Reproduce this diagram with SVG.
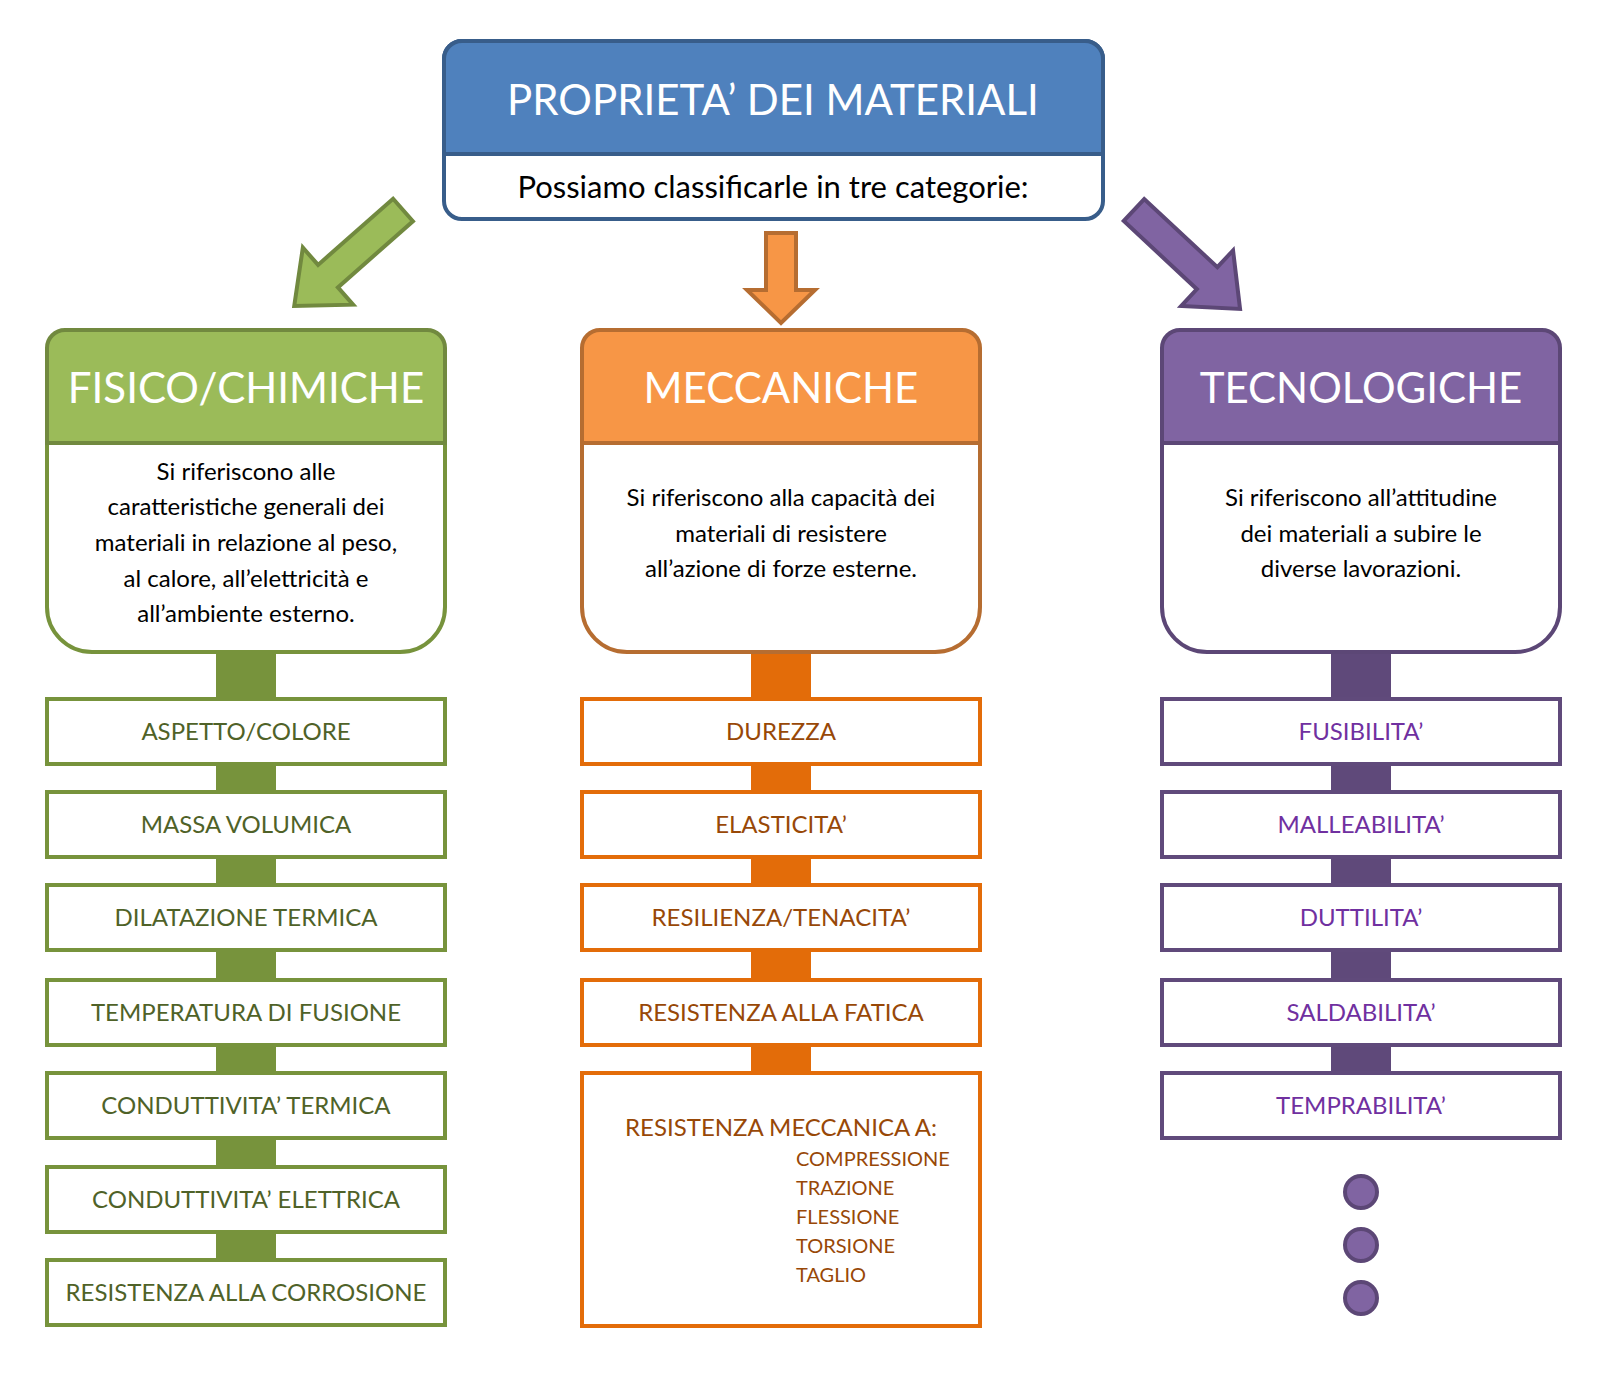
<svg xmlns="http://www.w3.org/2000/svg" width="1600" height="1386" viewBox="0 0 1600 1386">
<style>
text{font-family:Lato,"Open Sans","Liberation Sans",sans-serif;text-anchor:middle}
.hd{font-size:42px;fill:#fff}
.ds{font-size:24px;fill:#000}
.it{font-size:24px}
.g .box{fill:#fff;stroke:#77933C;stroke-width:4}
.o .box{fill:#fff;stroke:#E36C09;stroke-width:4}
.p .box{fill:#fff;stroke:#604A7B;stroke-width:4}
.g text.it{fill:#4F6228}.o text.it{fill:#984807}.p text.it{fill:#7030A0}
</style>
<defs>
<polygon id="arr" points="-15,0 15,0 15,100 38,100 0,145 -38,100 -15,100"/>
</defs>
<g id="connectors">
<use href="#arr" transform="translate(403,210) rotate(48.6)" fill="#9BBB59" stroke="#71893F" stroke-width="4"/>
<polygon points="766,233 796,233 796,290 815,290 781,323 747,290 766,290" fill="#F79646" stroke="#B66D31" stroke-width="4"/>
<use href="#arr" transform="translate(1134,210) rotate(-47)" fill="#8064A2" stroke="#5C4776" stroke-width="4"/>
<rect x="216" y="650" width="60" height="620" fill="#77933C"/>
<rect x="751" y="650" width="60" height="430" fill="#E36C09"/>
<rect x="1331" y="650" width="60" height="430" fill="#5F497A"/>
</g>
<g id="top">
<rect x="444" y="41" width="659" height="178" rx="18" fill="#fff" stroke="#385D8A" stroke-width="4"/>
<path d="M444,154 V59 a18,18 0 0 1 18,-18 H1085 a18,18 0 0 1 18,18 V154 Z" fill="#4F81BD" stroke="#385D8A" stroke-width="4"/>
<text x="773" y="115" font-size="42" fill="#fff">PROPRIETA’ DEI MATERIALI</text>
<text x="773" y="198" font-size="31" fill="#000">Possiamo classificarle in tre categorie:</text>
</g>
<g id="fisico" class="g">
<rect x="47" y="330" width="398" height="322" rx="45" fill="#fff" stroke="#77933C" stroke-width="4"/>
<path d="M47,443 V348 a18,18 0 0 1 18,-18 H427 a18,18 0 0 1 18,18 V443 Z" fill="#9BBB59" stroke="#71893F" stroke-width="4"/>
<text class="hd" x="246" y="403">FISICO/CHIMICHE</text>
<text class="ds" x="246" y="480">Si riferiscono alle</text>
<text class="ds" x="246" y="515">caratteristiche generali dei</text>
<text class="ds" x="246" y="551">materiali in relazione al peso,</text>
<text class="ds" x="246" y="587">al calore, all’elettricità e</text>
<text class="ds" x="246" y="622">all’ambiente esterno.</text>
</g>
<g id="meccaniche" class="o">
<rect x="582" y="330" width="398" height="322" rx="45" fill="#fff" stroke="#B66D31" stroke-width="4"/>
<path d="M582,443 V348 a18,18 0 0 1 18,-18 H962 a18,18 0 0 1 18,18 V443 Z" fill="#F79646" stroke="#B66D31" stroke-width="4"/>
<text class="hd" x="781" y="403">MECCANICHE</text>
<text class="ds" x="781" y="506">Si riferiscono alla capacità dei</text>
<text class="ds" x="781" y="542">materiali di resistere</text>
<text class="ds" x="781" y="577">all’azione di forze esterne.</text>
</g>
<g id="tecnologiche" class="p">
<rect x="1162" y="330" width="398" height="322" rx="45" fill="#fff" stroke="#5C4776" stroke-width="4"/>
<path d="M1162,443 V348 a18,18 0 0 1 18,-18 H1542 a18,18 0 0 1 18,18 V443 Z" fill="#8064A2" stroke="#5C4776" stroke-width="4"/>
<text class="hd" x="1361" y="403">TECNOLOGICHE</text>
<text class="ds" x="1361" y="506">Si riferiscono all’attitudine</text>
<text class="ds" x="1361" y="542">dei materiali a subire le</text>
<text class="ds" x="1361" y="577">diverse lavorazioni.</text>
</g>
<g class="g">
<g id="g1"><rect class="box" x="47" y="699" width="398" height="65"/><text class="it" x="246" y="740">ASPETTO/COLORE</text></g>
<g id="g2"><rect class="box" x="47" y="792" width="398" height="65"/><text class="it" x="246" y="833">MASSA VOLUMICA</text></g>
<g id="g3"><rect class="box" x="47" y="885" width="398" height="65"/><text class="it" x="246" y="926">DILATAZIONE TERMICA</text></g>
<g id="g4"><rect class="box" x="47" y="980" width="398" height="65"/><text class="it" x="246" y="1021">TEMPERATURA DI FUSIONE</text></g>
<g id="g5"><rect class="box" x="47" y="1073" width="398" height="65"/><text class="it" x="246" y="1114">CONDUTTIVITA’ TERMICA</text></g>
<g id="g6"><rect class="box" x="47" y="1167" width="398" height="65"/><text class="it" x="246" y="1208">CONDUTTIVITA’ ELETTRICA</text></g>
<g id="g7"><rect class="box" x="47" y="1260" width="398" height="65"/><text class="it" x="246" y="1301" font-size="22">RESISTENZA ALLA CORROSIONE</text></g>
</g>
<g class="o">
<g id="o1"><rect class="box" x="582" y="699" width="398" height="65"/><text class="it" x="781" y="740">DUREZZA</text></g>
<g id="o2"><rect class="box" x="582" y="792" width="398" height="65"/><text class="it" x="781" y="833">ELASTICITA’</text></g>
<g id="o3"><rect class="box" x="582" y="885" width="398" height="65"/><text class="it" x="781" y="926">RESILIENZA/TENACITA’</text></g>
<g id="o4"><rect class="box" x="582" y="980" width="398" height="65"/><text class="it" x="781" y="1021">RESISTENZA ALLA FATICA</text></g>
<g id="o5"><rect class="box" x="582" y="1073" width="398" height="253"/>
<text class="it" x="781" y="1136">RESISTENZA MECCANICA A:</text>
<g font-size="20" fill="#984807" style="text-anchor:start">
<text x="796" y="1166" style="text-anchor:start">COMPRESSIONE</text>
<text x="796" y="1195" style="text-anchor:start">TRAZIONE</text>
<text x="796" y="1224" style="text-anchor:start">FLESSIONE</text>
<text x="796" y="1253" style="text-anchor:start">TORSIONE</text>
<text x="796" y="1282" style="text-anchor:start">TAGLIO</text>
</g></g>
</g>
<g class="p">
<g id="p1"><rect class="box" x="1162" y="699" width="398" height="65"/><text class="it" x="1361" y="740">FUSIBILITA’</text></g>
<g id="p2"><rect class="box" x="1162" y="792" width="398" height="65"/><text class="it" x="1361" y="833">MALLEABILITA’</text></g>
<g id="p3"><rect class="box" x="1162" y="885" width="398" height="65"/><text class="it" x="1361" y="926">DUTTILITA’</text></g>
<g id="p4"><rect class="box" x="1162" y="980" width="398" height="65"/><text class="it" x="1361" y="1021">SALDABILITA’</text></g>
<g id="p5"><rect class="box" x="1162" y="1073" width="398" height="65"/><text class="it" x="1361" y="1114">TEMPRABILITA’</text></g>
<g id="dots" fill="#8064A2" stroke="#5C4776" stroke-width="4">
<circle cx="1361" cy="1192" r="16"/><circle cx="1361" cy="1245" r="16"/><circle cx="1361" cy="1298" r="16"/>
</g>
</g>
</svg>
